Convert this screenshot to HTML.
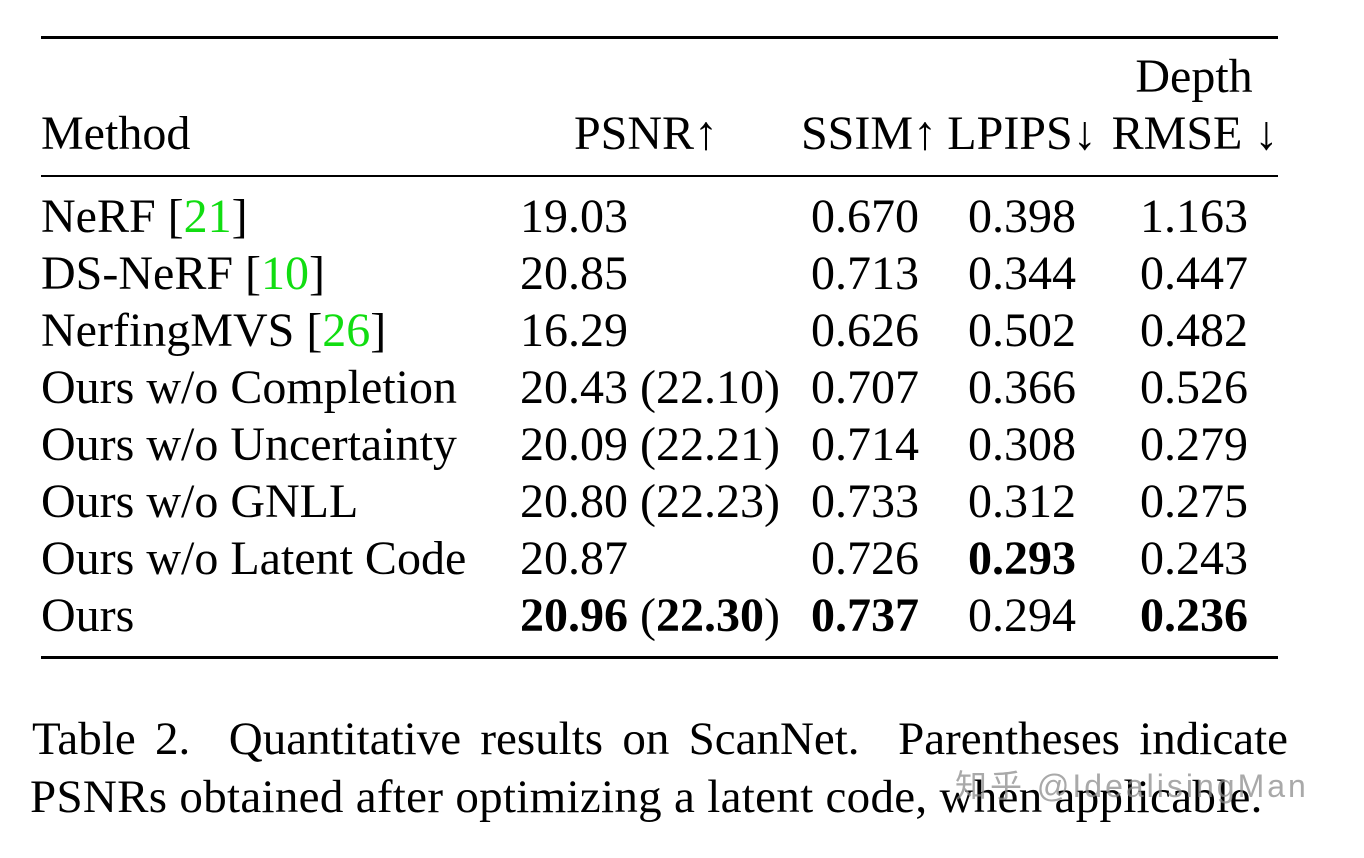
<!DOCTYPE html>
<html>
<head>
<meta charset="utf-8">
<style>
  html, body { margin: 0; padding: 0; background: #fff; }
  body { width: 1364px; height: 858px; position: relative; overflow: hidden;
         font-family: "Liberation Serif", "Noto Serif CJK SC", serif; color: #000; }
  .t { position: absolute; font-size: 48px; line-height: 48px; white-space: nowrap; }
  .c { text-align: center; width: 300px; }
  .rule { position: absolute; left: 41px; width: 1237px; background: #000; }
  .g { color: #11dd11; }
  b { font-weight: bold; }
  .cap { position: absolute; font-size: 47px; line-height: 47px; white-space: nowrap; }
  .wm { position: absolute; font-family: "Liberation Sans", "Noto Sans CJK SC", sans-serif;
        font-size: 32px; line-height: 32px; letter-spacing: 3px; color: rgba(140,140,140,0.75); white-space: nowrap; }
</style>
</head>
<body>
  <div class="rule" style="top:36px;height:3px;"></div>
  <div class="rule" style="top:175px;height:2px;"></div>
  <div class="rule" style="top:656px;height:3px;"></div>

  <!-- header -->
  <div class="t c" style="left:1044px;top:53px;">Depth</div>
  <div class="t" style="left:41px;top:110px;">Method</div>
  <div class="t c" style="left:496px;top:110px;">PSNR↑</div>
  <div class="t c" style="left:719px;top:110px;">SSIM↑</div>
  <div class="t c" style="left:872px;top:110px;">LPIPS↓</div>
  <div class="t c" style="left:1045px;top:110px;">RMSE ↓</div>

  <!-- rows -->
  <div class="t" style="left:41px;top:193px;">NeRF [<span class="g">21</span>]</div>
  <div class="t" style="left:520px;top:193px;">19.03</div>
  <div class="t c" style="left:715px;top:193px;">0.670</div>
  <div class="t c" style="left:872px;top:193px;">0.398</div>
  <div class="t c" style="left:1044px;top:193px;">1.163</div>

  <div class="t" style="left:41px;top:250px;">DS-NeRF [<span class="g">10</span>]</div>
  <div class="t" style="left:520px;top:250px;">20.85</div>
  <div class="t c" style="left:715px;top:250px;">0.713</div>
  <div class="t c" style="left:872px;top:250px;">0.344</div>
  <div class="t c" style="left:1044px;top:250px;">0.447</div>

  <div class="t" style="left:41px;top:307px;">NerfingMVS [<span class="g">26</span>]</div>
  <div class="t" style="left:520px;top:307px;">16.29</div>
  <div class="t c" style="left:715px;top:307px;">0.626</div>
  <div class="t c" style="left:872px;top:307px;">0.502</div>
  <div class="t c" style="left:1044px;top:307px;">0.482</div>

  <div class="t" style="left:41px;top:364px;">Ours w/o Completion</div>
  <div class="t" style="left:520px;top:364px;">20.43 (22.10)</div>
  <div class="t c" style="left:715px;top:364px;">0.707</div>
  <div class="t c" style="left:872px;top:364px;">0.366</div>
  <div class="t c" style="left:1044px;top:364px;">0.526</div>

  <div class="t" style="left:41px;top:421px;">Ours w/o Uncertainty</div>
  <div class="t" style="left:520px;top:421px;">20.09 (22.21)</div>
  <div class="t c" style="left:715px;top:421px;">0.714</div>
  <div class="t c" style="left:872px;top:421px;">0.308</div>
  <div class="t c" style="left:1044px;top:421px;">0.279</div>

  <div class="t" style="left:41px;top:478px;">Ours w/o GNLL</div>
  <div class="t" style="left:520px;top:478px;">20.80 (22.23)</div>
  <div class="t c" style="left:715px;top:478px;">0.733</div>
  <div class="t c" style="left:872px;top:478px;">0.312</div>
  <div class="t c" style="left:1044px;top:478px;">0.275</div>

  <div class="t" style="left:41px;top:535px;">Ours w/o Latent Code</div>
  <div class="t" style="left:520px;top:535px;">20.87</div>
  <div class="t c" style="left:715px;top:535px;">0.726</div>
  <div class="t c" style="left:872px;top:535px;"><b>0.293</b></div>
  <div class="t c" style="left:1044px;top:535px;">0.243</div>

  <div class="t" style="left:41px;top:592px;">Ours</div>
  <div class="t" style="left:520px;top:592px;"><b>20.96</b> (<b>22.30</b>)</div>
  <div class="t c" style="left:715px;top:592px;"><b>0.737</b></div>
  <div class="t c" style="left:872px;top:592px;">0.294</div>
  <div class="t c" style="left:1044px;top:592px;"><b>0.236</b></div>

  <!-- caption -->
  <div class="cap" style="left:32px;top:716px;width:1256px;text-align:justify;text-align-last:justify;white-space:normal;">Table 2.&nbsp; Quantitative results on ScanNet.&nbsp; Parentheses indicate</div>
  <div class="cap" style="left:30px;top:774px;letter-spacing:0.3px;">PSNRs obtained after optimizing a latent code, when applicable.</div>

  <div class="wm" style="left:955px;top:770px;">知乎 @IdealisingMan</div>
</body>
</html>
